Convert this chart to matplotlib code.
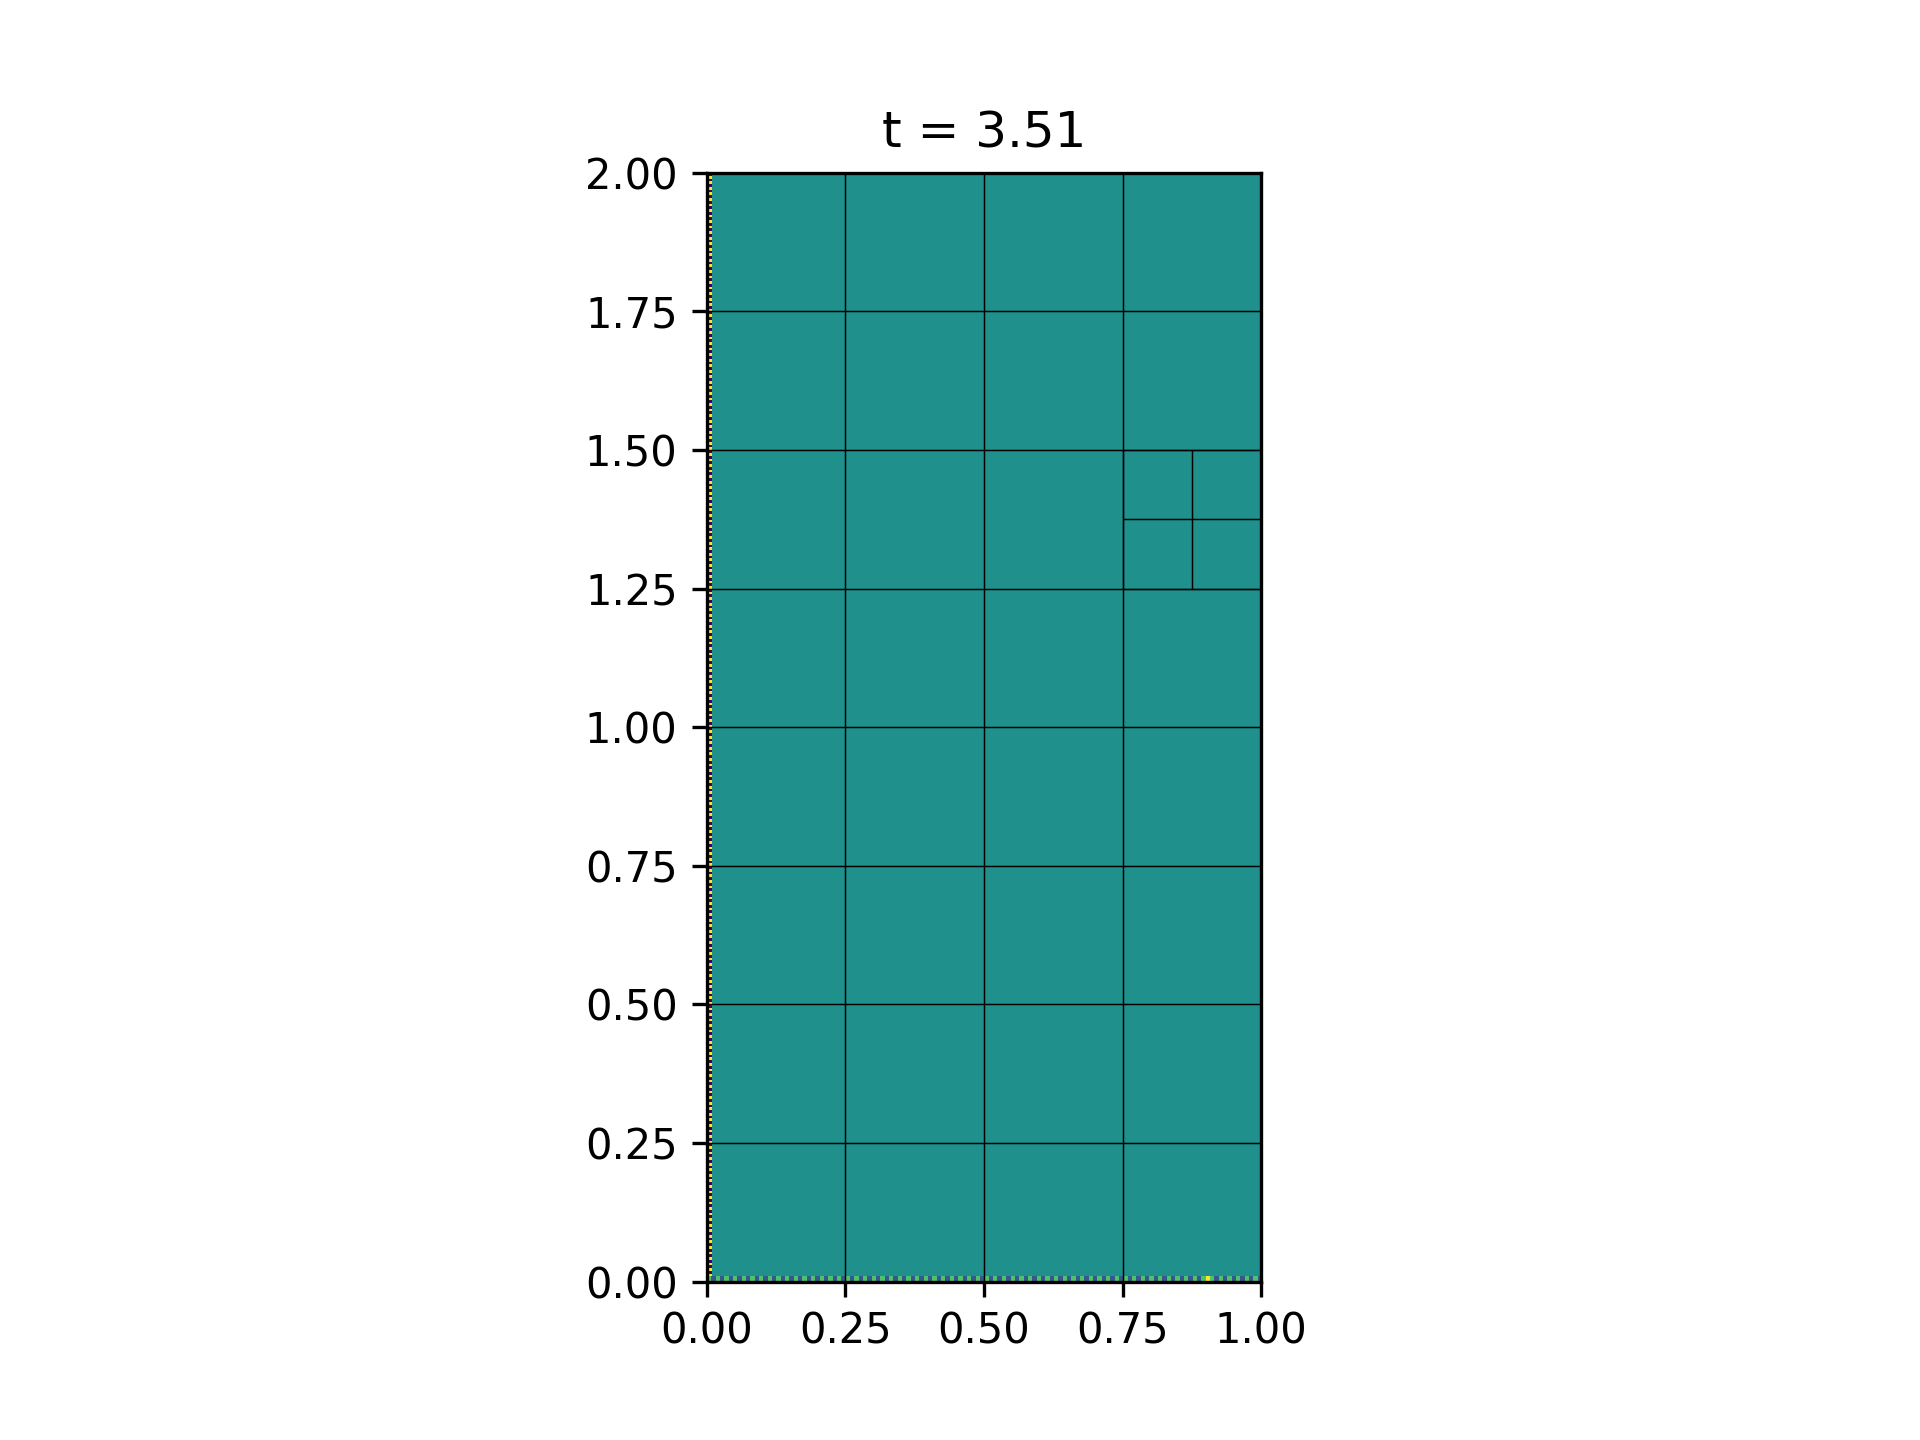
import matplotlib
matplotlib.use("Agg")
import matplotlib.pyplot as plt
from matplotlib.patches import Rectangle
import numpy as np

# simulation time and domain
t_value = 3.51
x_range = [0.0, 1.0]
y_range = [0.0, 2.0]

# root blocks (size 0.25) and the one refined block, split into 4 children
root_size = 0.25
child_x = [0.75, 0.875, 0.75, 0.875]
child_y = [1.25, 1.25, 1.375, 1.375]
child_size = 0.125

# field value inside the domain (colour scale 0..1)
interior_value = 0.5
ncells_x, ncells_y = 128, 256

# boundary strips
left_pattern = [1.0, 0.0]               # yellow / purple along x=0
bottom_pattern = [0.72, 0.27]           # green / dark blue along y=0
bottom_spike_x = 0.9                    # one yellow cell on bottom row

fig, ax = plt.subplots(figsize=(6.4, 4.8), dpi=300)

field = np.full((ncells_y, ncells_x), interior_value)
ax.imshow(field, extent=[x_range[0], x_range[1], y_range[0], y_range[1]],
          origin='lower', cmap='viridis', vmin=0, vmax=1,
          interpolation='nearest')

# left boundary strip
left = np.tile(left_pattern, 200)[:, None]
ax.imshow(left, extent=[0.0, 0.008, 0.0, 2.0], origin='lower',
          cmap='viridis', vmin=0, vmax=1, interpolation='nearest', aspect='auto')

# bottom boundary strip
bottom = np.tile(bottom_pattern, 64)[None, :]
ix = int(bottom_spike_x * bottom.shape[1])
bottom[0, ix] = 1.0
ax.imshow(bottom, extent=[0.0, 1.0, 0.0, 0.01], origin='lower',
          cmap='viridis', vmin=0, vmax=1, interpolation='nearest', aspect='auto')

# block outlines
nbx = int(round((x_range[1] - x_range[0]) / root_size))
nby = int(round((y_range[1] - y_range[0]) / root_size))
for i in range(nbx):
    for j in range(nby):
        x0, y0 = i * root_size, j * root_size
        ax.add_patch(Rectangle((x0, y0), root_size, root_size, fill=False,
                               ec='k', lw=0.3))
for cx, cy in zip(child_x, child_y):
    ax.add_patch(Rectangle((cx, cy), child_size, child_size, fill=False,
                           ec='k', lw=0.3))

ax.set_xlim(x_range)
ax.set_ylim(y_range)
ax.set_aspect('equal')
ax.set_xticks([0, 0.25, 0.5, 0.75, 1.0])
ax.set_yticks(np.arange(0, 2.01, 0.25))
ax.xaxis.set_major_formatter(matplotlib.ticker.FormatStrFormatter('%.2f'))
ax.yaxis.set_major_formatter(matplotlib.ticker.FormatStrFormatter('%.2f'))
ax.set_title(f"t = {t_value:.2f}")

fig.savefig("out.png", dpi=300)
